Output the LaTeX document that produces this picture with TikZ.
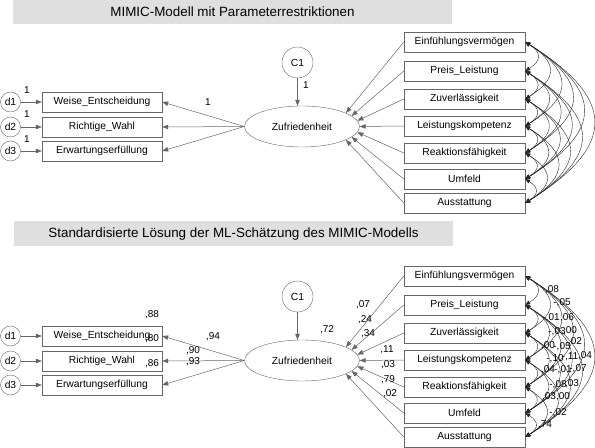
\documentclass[tikz,border=0pt]{standalone}
\usepackage{fontspec}
\setmainfont{Liberation Sans}
\usetikzlibrary{arrows.meta,shapes.geometric}
\definecolor{barfill}{RGB}{223,223,223}
\begin{document}
\begin{tikzpicture}[x=1bp,y=1bp,
  txt/.style={font=\fontsize{10.3bp}{12bp}\selectfont},
  box/.style={txt, draw=black!60, fill=white, minimum height=19.5bp, inner sep=0},
  lbox/.style={box, minimum width=120bp},
  rbox/.style={box, minimum width=121bp},
  errc/.style={txt, circle, draw=black!60, minimum size=20bp, inner sep=0},
  cone/.style={txt, circle, draw=black!60, minimum size=31bp, inner sep=0},
  lat/.style={txt, ellipse, draw=black!60, minimum width=115bp, minimum height=41bp, inner sep=0},
  pth/.style={draw=black!60, line width=0.5bp, -{Triangle[length=6bp,width=4.5bp]}},
  cov/.style={draw=black!85, line width=0.4bp, {Triangle[length=5bp,width=4bp]}-{Triangle[length=5bp,width=4bp]}, out=-32, in=32, looseness=1.72},
  lab/.style={font=\fontsize{10bp}{12bp}\selectfont, inner sep=0},
  ttl/.style={fill=barfill, minimum width=438bp, inner sep=0, font=\fontsize{13.4bp}{15bp}\selectfont}
]
\useasboundingbox (0,0) rectangle (595,-448);
\node[ttl, minimum height=24bp] (title1) at (232.5,-12) {MIMIC-Modell mit Parameterrestriktionen};
\node[ttl, minimum height=25.5bp] (title2) at (233.5,-233.75) {Standardisierte Lösung der ML-Schätzung des MIMIC-Modells};
\foreach \p/\o in {t/0,b/234}{
  \node[lat] (\p z) at (302,-126.5-\o) {Zufriedenheit};
  \node[cone] (\p c) at (297.5,-62.5-\o) {C1};
  \draw[pth] (\p c.south) -- (\p c.south |- \p z.north);
  \foreach \i/\y/\t in {1/102/Weise\_Entscheidung, 2/127/Richtige\_Wahl, 3/151/Erwartungserfüllung}{
    \node[lbox] (\p l\i) at (102,-\y-\o) {\t};
    \node[errc] (\p d\i) at (10.5,-\y-\o) {d\i};
    \draw[pth] (\p d\i) -- (\p l\i);
    \draw[pth] (\p z.west) -- (\p l\i.east);
  }
  \foreach \i/\y/\t in {1/42/Einfühlungsvermögen, 2/71/Preis\_Leistung, 3/99/Zuverlässigkeit, 4/126/Leistungskompetenz, 5/153/Reaktionsfähigkeit, 6/179/Umfeld, 7/203/Ausstattung}{
    \node[rbox] (\p r\i) at (464.5,-\y-\o) {\t};
  }
  \foreach \i/\a in {1/17,2/12,3/6,4/0,5/-6,6/-12,7/-17}{
    \draw[pth] (\p r\i.west) -- (\p z.\a);
  }
  \foreach \i in {1,...,6}{
    \pgfmathtruncatemacro\jstart{\i+1}
    \foreach \j in {\jstart,...,7}{
      \draw[cov] (\p r\i.east) to (\p r\j.east);
    }
  }
}
% top labels
\foreach \x/\y/\t in {27/90/1, 27/114/1, 27/139/1, 306/85/1, 208/102/1}{
  \node[lab] at (\x,-\y) {\t};
}
% bottom labels
\foreach \x/\y/\t in {152/315/{,88}, 152/339/{,80}, 152/364/{,86}, 213/337/{,94}, 193/351/{,90}, 193/362/{,93}, 327/330/{,72},
  363/305/{,07}, 365/320/{,24}, 368/334/{,34}, 387/350/{,11}, 388/365/{,03}, 388/380/{,79}, 390/394/{,02}}{
  \node[lab] at (\x,-\y) {\t};
}
% covariance labels
\foreach \x/\y/\t in {552/290/{,08}, 562/303/{-,05}, 551/318/{-,01}, 567/318/{,06}, 557/332/{-,03}, 570/331/{,00},
  548/346/{,00}, 562/347/{-,05}, 575/342/{,02}, 555/359/{-,10}, 570/357/{-,11}, 585/356/{,04},
  548/370/{,04}, 563/370/{-,01}, 578/369/{-,07}, 558/385/{-,08}, 572/384/{,03}, 549/397/{,03}, 563/397/{,00},
  558/413/{-,02}, 545/425/{,74}}{
  \node[lab] at (\x,-\y) {\t};
}
\end{tikzpicture}
\end{document}
